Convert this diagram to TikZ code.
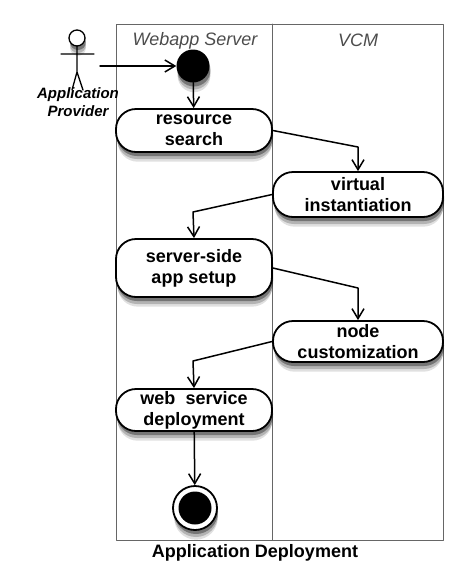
\documentclass[tikz,border=0pt]{standalone}
\usepackage{fontspec}
\setmainfont{Liberation Sans}
\usetikzlibrary{arrows.meta,shadows}
\tikzset{
	softshadow/.style={
		general shadow={shadow xshift=1pt,shadow yshift=-10pt,shadow scale=.99,fill=black,opacity=.12},
		general shadow={shadow xshift=1pt,shadow yshift=-7pt,shadow scale=1,fill=black,opacity=.2},
		general shadow={shadow xshift=1pt,shadow yshift=-4pt,shadow scale=1,fill=black,opacity=.35}},
	activity/.style={draw,line width=1.8pt,fill=white,rounded corners=20pt,align=center,font=\bfseries\fontsize{18}{21}\selectfont,inner sep=0pt,softshadow},
	lanelabel/.style={font=\itshape\fontsize{18}{20}\selectfont,text=black!70}
}
\begin{document}
\begin{tikzpicture}[x=1pt,y=-1pt,line join=round,line cap=round,>={Straight Barb[length=10pt,width=12pt]}]
	\useasboundingbox (0,0) rectangle (474,579);
	\draw[black!60,line width=1pt] (116,24) rectangle (443,540) (272,24) -- (272,540);
	\node[lanelabel] (webapp) at (195,41) {Webapp Server};
	\node[lanelabel] (vcm) at (358,40) {VCM};

	\draw[line width=1.3pt,fill=white,softshadow] (77,38) circle (8);
	\draw[line width=1.3pt] (61,54) -- (94,54) (77,46) -- (77,72) (72,90) -- (77,72) -- (83,90);
	\node[font=\bfseries\itshape\fontsize{15}{18}\selectfont,align=center,inner sep=0pt] (provider) at (78,102) {Application\\Provider};
	\coordinate (from) at (100,66);

	\node[circle,fill=black,minimum size=33pt,inner sep=0pt,softshadow] (start) at (193,66) {};
	\node[activity,minimum width=156pt,minimum height=43pt] (search) at (194,130.5) {resource\\search};
	\node[activity,minimum width=170pt,minimum height=45pt] (virtual) at (358,194.5) {virtual\\instantiation};
	\node[activity,minimum width=156pt,minimum height=58pt] (setup) at (194,268) {server-side\\app setup};
	\node[activity,minimum width=170pt,minimum height=41pt] (custom) at (358,341.5) {node\\customization};
	\node[activity,minimum width=156pt,minimum height=42pt] (deploy) at (194,410) {web\hspace{.3em} service\\deployment};
	\node[circle,draw,line width=1.8pt,fill=white,minimum size=44pt,inner sep=0pt,softshadow] (end) at (195,508) {};
	\node[circle,fill=black,minimum size=33pt,inner sep=0pt] (endin) at (195,508) {};

	\coordinate (a) at (358,147);
	\coordinate (b) at (193,212);
	\coordinate (c) at (358,288);
	\coordinate (d) at (193,361);

	\draw[->,line width=1.5pt] (from) -- (start);
	\draw[->,line width=1.5pt] (start) -- (search);
	\draw[->,line width=1.5pt] (search.east) -- (a) -- (virtual.north);
	\draw[->,line width=1.5pt] (virtual.west) -- (b) -- (setup.north);
	\draw[->,line width=1.5pt] (setup.east) -- (c) -- (custom.north);
	\draw[->,line width=1.5pt] (custom.west) -- (d) -- (deploy.north);
	\draw[->,line width=1.5pt] (deploy) -- (end);

	\node[font=\bfseries\fontsize{18}{20}\selectfont] (title) at (255,553) {Application Deployment};
\end{tikzpicture}
\end{document}
